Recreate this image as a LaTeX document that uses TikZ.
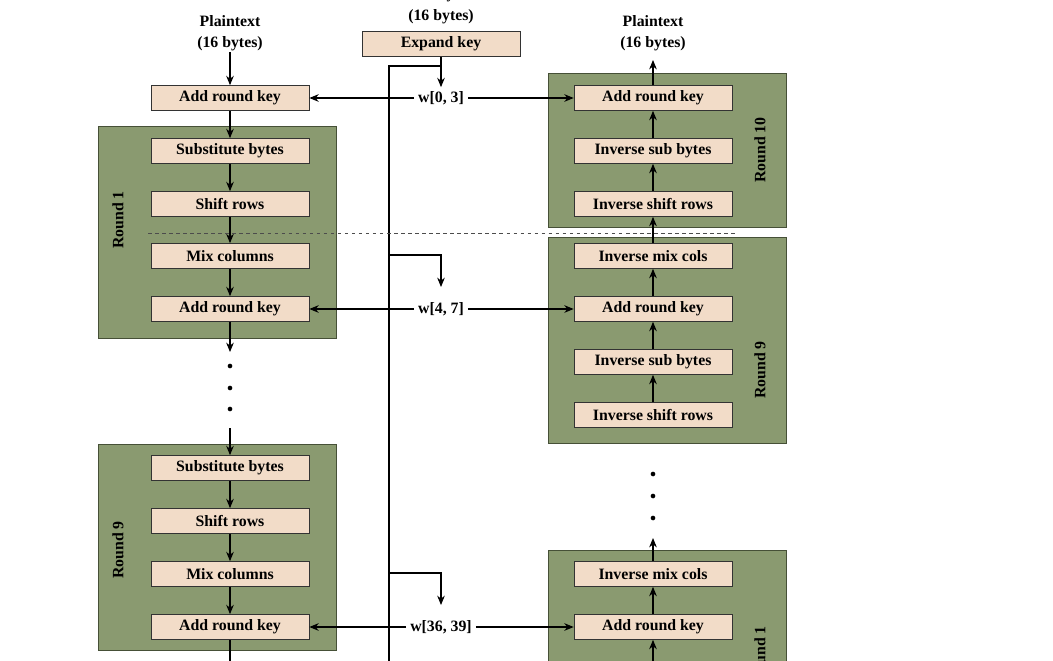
\documentclass[tikz,border=0pt]{standalone}
\usepackage{fontspec}
\setmainfont{Liberation Serif}
\usetikzlibrary{arrows.meta}
\definecolor{grn}{RGB}{138,154,112}
\definecolor{grnd}{RGB}{70,80,55}
\definecolor{bx}{RGB}{242,220,200}
\begin{document}
\begin{tikzpicture}[x=0.03cm,y=-0.03cm,
 font=\fontsize{13.5}{18}\selectfont\bfseries,
 op/.style={draw=black!80,fill=bx,minimum width=158*0.03cm,minimum height=25*0.03cm,inner sep=0pt,line width=0.6pt},
 rnd/.style={draw=grnd,fill=grn,line width=0.6pt},
 lbl/.style={align=center,inner sep=1pt},
 ar/.style={-{Stealth[length=8pt,width=6.5pt]},line width=0.9pt},
 ln/.style={line width=0.9pt},
 dot/.style={circle,fill=black,inner sep=0pt,minimum size=4pt}]
\useasboundingbox (0,0) rectangle (1053,660);
\clip (0,0) rectangle (1053,660);
% green round boxes
\path[rnd] (98,126) rectangle (336,338);
\path[rnd] (98,444) rectangle (336,650);
\path[rnd] (548,73) rectangle (786,227);
\path[rnd] (548,237) rectangle (786,443);
\path[rnd] (548,550) rectangle (786,680);
\node[rotate=90] (r1l) at (118,220) {Round 1};
\node[rotate=90] (r9l) at (118,550) {Round 9};
\node[rotate=90] (r10r) at (760,150) {Round 10};
\node[rotate=90] (r9r) at (760,370) {Round 9};
\node[rotate=90] (r1r) at (760,655) {Round 1};
% left column
\node[lbl] (pt1) at (230,33) {Plaintext\\(16 bytes)};
\node[op] (a0) at (230,98) {Add round key};
\node[op] (s1) at (230,151) {Substitute bytes};
\node[op] (h1) at (230,204) {Shift rows};
\node[op] (m1) at (230,256) {Mix columns};
\node[op] (a1) at (230,309) {Add round key};
\node[dot] (d1) at (230,366) {};
\node[dot] (d2) at (230,388) {};
\node[dot] (d3) at (230,409) {};
\node[op] (s9) at (230,468) {Substitute bytes};
\node[op] (h9) at (230,521) {Shift rows};
\node[op] (m9) at (230,574) {Mix columns};
\node[op] (a9) at (230,627) {Add round key};
\coordinate (a1b) at (230,352);
\coordinate (d3b) at (230,428);
\coordinate (a9b) at (230,665);
\draw[ar] (pt1) -- (a0);
\draw[ar] (a0) -- (s1);
\draw[ar] (s1) -- (h1);
\draw[ar] (h1) -- (m1);
\draw[ar] (m1) -- (a1);
\draw[ar] (a1) -- (a1b);
\draw[ar] (d3b) -- (s9);
\draw[ar] (s9) -- (h9);
\draw[ar] (h9) -- (m9);
\draw[ar] (m9) -- (a9);
\draw[ln] (a9) -- (a9b);
% key
\node[lbl] (key) at (441,6) {Key\\(16 bytes)};
\node[op] (ek) at (441,44) {Expand key};
\node (w0) at (441,98) {w[0, 3]};
\node (w4) at (441,309) {w[4, 7]};
\node (w36) at (441,627) {w[36, 39]};
\coordinate (k0) at (441,66);
\coordinate (kl) at (389,66);
\coordinate (kb) at (389,665);
\draw[ln] (k0) -- (kl) -- (kb);
\draw[ar] (ek) -- (w0);
\coordinate (b4) at (389,255);
\coordinate (b4a) at (441,287);
\draw[ar] (b4) -| (b4a);
\coordinate (b36) at (389,573);
\coordinate (b36a) at (441,605);
\draw[ar] (b36) -| (b36a);
% right column
\node[lbl] (pt2) at (653,33) {Plaintext\\(16 bytes)};
\node[op] (ra0) at (653,98) {Add round key};
\node[op] (rs10) at (653,151) {Inverse sub bytes};
\node[op] (rh10) at (653,204) {Inverse shift rows};
\node[op] (rm9) at (653,256) {Inverse mix cols};
\node[op] (ra9) at (653,309) {Add round key};
\node[op] (rs9) at (653,362) {Inverse sub bytes};
\node[op] (rh9) at (653,415) {Inverse shift rows};
\node[dot] (e1) at (653,474) {};
\node[dot] (e2) at (653,496) {};
\node[dot] (e3) at (653,518) {};
\node[op] (rm1) at (653,574) {Inverse mix cols};
\node[op] (ra1) at (653,627) {Add round key};
\coordinate (rtop) at (653,60);
\coordinate (rm1u) at (653,538);
\coordinate (ra1b) at (653,665);
\draw[ar] (ra0) -- (rtop);
\draw[ar] (rs10) -- (ra0);
\draw[ar] (rh10) -- (rs10);
\draw[ar] (rm9) -- (rh10);
\draw[ar] (ra9) -- (rm9);
\draw[ar] (rs9) -- (ra9);
\draw[ar] (rh9) -- (rs9);
\draw[ar] (rm1) -- (rm1u);
\draw[ar] (ra1) -- (rm1);
\draw[ar] (ra1b) -- (ra1);
% key arrows
\draw[ar] (w0) -- (a0);
\draw[ar] (w0) -- (ra0);
\draw[ar] (w4) -- (a1);
\draw[ar] (w4) -- (ra9);
\draw[ar] (w36) -- (a9);
\draw[ar] (w36) -- (ra1);
% dashed separator
\coordinate (ds1) at (148,233);
\coordinate (ds2) at (735,233);
\draw[dashed,line width=0.5pt,black!70] (ds1) -- (ds2);
\end{tikzpicture}
\end{document}
